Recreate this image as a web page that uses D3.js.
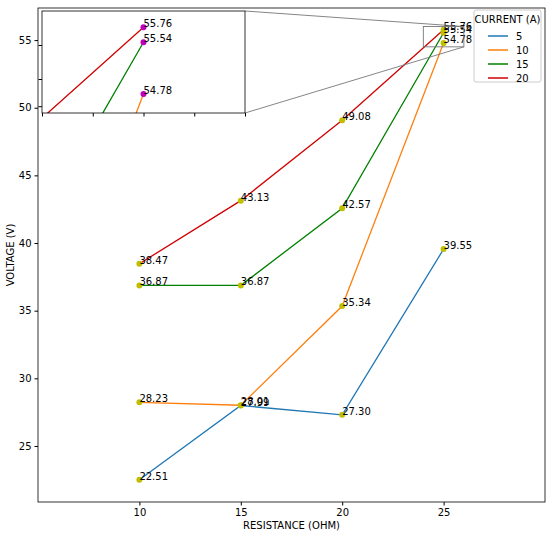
<!DOCTYPE html>
<html><head><meta charset="utf-8">
<script src="https://cdn.jsdelivr.net/npm/d3@7"></script>
<style>body{margin:0;background:#fff}text{font-family:"DejaVu Sans",sans-serif}</style>
</head><body><svg width="552" height="537"></svg>
<script>
var resistance = [10, 15, 20, 25];
var currents = ["5", "10", "15", "20"];
var volt5 = [22.51, 27.99, 27.30, 39.55];
var volt10 = [28.23, 28.01, 35.34, 54.78];
var volt15 = [36.87, 36.87, 42.57, 55.54];
var volt20 = [38.47, 43.13, 49.08, 55.76];
var colors = ["#1f77b4", "#ff7f0e", "#008000", "#d00000"];
var xTicks = [10, 15, 20, 25];
var yTicks = [25, 30, 35, 40, 45, 50, 55];
var insetXTicks = [24, 24.5, 25, 25.5, 26];
var insetYTicks = [54.6, 55, 55.5];

var series = [volt5, volt10, volt15, volt20];
var svg = d3.select("svg");
var L = 38, R = 545, T = 8, B = 502;
var x = d3.scaleLinear().domain([5, 30]).range([L, R]);
var y = d3.scaleLinear().domain([20.86, 57.37]).range([B, T]);

var g = svg.append("g");
var line = d3.line().x(function(d, i) { return x(resistance[i]); }).y(function(d) { return y(d); });
series.forEach(function(s, k) {
    g.append("path").datum(s).attr("fill", "none").attr("stroke", colors[k]).attr("stroke-width", 1.3).attr("d", line);
});
series.forEach(function(s) {
    s.forEach(function(v, i) {
        g.append("circle").attr("cx", x(resistance[i])).attr("cy", y(v)).attr("r", 3).attr("fill", "#bfbf00");
    });
});
series.forEach(function(s) {
    s.forEach(function(v, i) {
        g.append("text").attr("x", x(resistance[i])).attr("y", y(v)).attr("font-size", 10).text(v.toFixed(2));
    });
});

svg.append("g").attr("transform", "translate(0," + B + ")")
    .call(d3.axisBottom(x).tickValues(xTicks).tickSize(3.5).tickFormat(d3.format("d")))
    .call(function(a) { a.select(".domain").remove(); a.selectAll("text").attr("font-size", 10).attr("fill", "#000"); });
svg.append("g").attr("transform", "translate(" + L + ",0)")
    .call(d3.axisLeft(y).tickValues(yTicks).tickSize(3.5).tickFormat(d3.format("d")))
    .call(function(a) { a.select(".domain").remove(); a.selectAll("text").attr("font-size", 10).attr("fill", "#000"); });
svg.append("rect").attr("x", L).attr("y", T).attr("width", R - L).attr("height", B - T).attr("fill", "none").attr("stroke", "#000").attr("stroke-width", 0.8);
svg.append("text").attr("x", (L + R) / 2).attr("y", 529).attr("text-anchor", "middle").attr("font-size", 10).text("RESISTANCE (OHM)");
svg.append("text").attr("transform", "translate(14," + (T + B) / 2 + ") rotate(-90)").attr("text-anchor", "middle").attr("font-size", 10).text("VOLTAGE (V)");

// zoom region marker and inset
var zx0 = x(24), zx1 = x(26), zy0 = y(56), zy1 = y(54.5);
var iL = 42, iR = 245, iT = 11, iB = 113;
svg.append("rect").attr("x", zx0).attr("y", zy0).attr("width", zx1 - zx0).attr("height", zy1 - zy0).attr("fill", "none").attr("stroke", "#777").attr("stroke-width", 0.9);
svg.append("line").attr("x1", iR).attr("y1", iT).attr("x2", zx1).attr("y2", zy0).attr("stroke", "#777").attr("stroke-width", 0.9);
svg.append("line").attr("x1", iR).attr("y1", iB).attr("x2", zx1).attr("y2", zy1).attr("stroke", "#777").attr("stroke-width", 0.9);

var ix = d3.scaleLinear().domain([24, 26]).range([iL, iR]);
var iy = d3.scaleLinear().domain([54.5, 56]).range([iB, iT]);
svg.append("defs").append("clipPath").attr("id", "ic").append("rect").attr("x", iL).attr("y", iT).attr("width", iR - iL).attr("height", iB - iT);
svg.append("rect").attr("x", iL).attr("y", iT).attr("width", iR - iL).attr("height", iB - iT).attr("fill", "#fff");
var ig = svg.append("g").attr("clip-path", "url(#ic)");
var iline = d3.line().x(function(d, i) { return ix(resistance[i]); }).y(function(d) { return iy(d); });
series.forEach(function(s, k) {
    ig.append("path").datum(s).attr("fill", "none").attr("stroke", colors[k]).attr("stroke-width", 1.3).attr("d", iline);
});
series.forEach(function(s) {
    s.forEach(function(v, i) {
        ig.append("circle").attr("cx", ix(resistance[i])).attr("cy", iy(v)).attr("r", 3).attr("fill", "#bf00bf");
        ig.append("text").attr("x", ix(resistance[i])).attr("y", iy(v)).attr("font-size", 10).text(v.toFixed(2));
    });
});
svg.append("g").attr("transform", "translate(0," + iB + ")")
    .call(d3.axisBottom(ix).tickValues(insetXTicks).tickSize(3.5).tickFormat(""))
    .call(function(a) { a.select(".domain").remove(); a.selectAll("text").remove(); });
svg.append("g").attr("transform", "translate(" + iL + ",0)")
    .call(d3.axisLeft(iy).tickValues(insetYTicks).tickSize(3.5).tickFormat(""))
    .call(function(a) { a.select(".domain").remove(); a.selectAll("text").remove(); });
svg.append("rect").attr("x", iL).attr("y", iT).attr("width", iR - iL).attr("height", iB - iT).attr("fill", "none").attr("stroke", "#000").attr("stroke-width", 0.8);

// legend
var lg = svg.append("g").attr("transform", "translate(474,10)");
lg.append("rect").attr("width", 67).attr("height", 72).attr("rx", 2).attr("fill", "#fff").attr("stroke", "#ccc");
lg.append("text").attr("x", 33.5).attr("y", 13).attr("text-anchor", "middle").attr("font-size", 10).text("CURRENT (A)");
currents.forEach(function(c, k) {
    var yy = 26 + k * 14;
    lg.append("line").attr("x1", 14).attr("x2", 34).attr("y1", yy).attr("y2", yy).attr("stroke", colors[k]).attr("stroke-width", 1.5);
    lg.append("text").attr("x", 42).attr("y", yy + 3.5).attr("font-size", 10).text(c);
});
</script></body></html>
